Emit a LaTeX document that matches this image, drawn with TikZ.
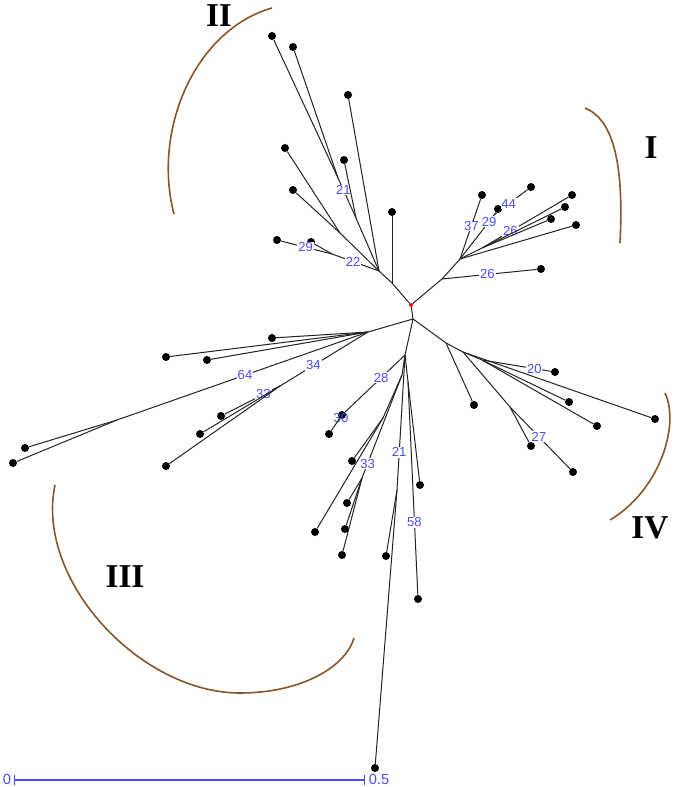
\documentclass[tikz,border=0pt]{standalone}
\usepackage{fontspec}
\setmainfont{Liberation Serif}
\setsansfont{Liberation Sans}
\definecolor{arcbrown}{RGB}{135,85,40}
\definecolor{numblue}{RGB}{75,75,255}
\definecolor{branch}{RGB}{35,35,35}
\begin{document}
\begin{tikzpicture}[x=0.75pt,y=-0.75pt,
    leaf/.style={circle,fill=black,inner sep=0pt,minimum size=6pt},
    br/.style={branch,line width=0.75pt},
    lbl/.style={fill=white,inner sep=0.6pt,text=numblue,font=\sffamily\fontsize{9.8}{10}\selectfont},
    cladelabel/.style={font=\bfseries\fontsize{25}{25}\selectfont},
    cladearc/.style={arcbrown,line width=1.2pt}]
\useasboundingbox (0,0) rectangle (685,787);

% Root and main junctions
\node[circle,fill=red,inner sep=0pt,minimum size=3pt] (root) at (411,305) {};
\coordinate (ja) at (413,319);
\coordinate (jb) at (392,283);
\coordinate (jc) at (379,271);
\coordinate (jd) at (442,279);
\coordinate (je) at (460,259);
\draw[br] (root) -- (ja);
\draw[br] (root) -- (jb) -- (jc);
\draw[br] (root) -- (jd) -- (je);

% Clade II
\node[leaf] (L1) at (272,36) {};
\node[leaf] (L2) at (293,47) {};
\node[leaf] (L3) at (348,95) {};
\node[leaf] (L4) at (344,160) {};
\node[leaf] (L5) at (285,148) {};
\node[leaf] (L6) at (293,190) {};
\node[leaf] (L7) at (277,240) {};
\node[leaf] (L8) at (311,242) {};
\node[leaf] (L9) at (392,212) {};
\coordinate (c1) at (338,178);
\coordinate (c2) at (356,218);
\coordinate (c3) at (340,233);
\coordinate (c4) at (332,254);
\draw[br] (jb) -- (L9);
\draw[br] (L1) -- (c1);
\draw[br] (L2) -- (c1);
\draw[br] (c1) -- node[lbl,pos=0.3] (n21a) {21} (c2);
\draw[br] (L4) -- (c2) -- (jc);
\draw[br] (L3) -- (jc);
\draw[br] (L5) -- (c3);
\draw[br] (L6) -- (c3) -- (jc);
\draw[br] (L7) -- node[lbl,pos=0.48] (n29a) {29} (c4);
\draw[br] (L8) -- (c4);
\draw[br] (c4) -- node[lbl,pos=0.45] (n22) {22} (jc);

% Clade I
\node[leaf] (M1) at (541,269) {};
\node[leaf] (M2) at (482,195) {};
\node[leaf] (M3) at (498,209) {};
\node[leaf] (M4) at (531,187) {};
\node[leaf] (M5) at (572,195) {};
\node[leaf] (M6) at (565,207) {};
\node[leaf] (M7) at (551,219) {};
\node[leaf] (M8) at (576,225) {};
\coordinate (c5) at (495,214);
\coordinate (c6) at (482,248);
\draw[br] (jd) -- node[lbl,pos=0.48] (n26a) {26} (M1);
\draw[br] (je) -- node[lbl,pos=0.55] (n37) {37} (M2);
\draw[br] (je) -- node[lbl,pos=0.83] (n29b) {29} (c5);
\draw[br] (c5) -- (M3);
\draw[br] (c5) -- node[lbl,pos=0.42] (n44) {44} (M4);
\draw[br] (je) -- (c6);
\draw[br] (c6) -- node[lbl,pos=0.33] (n26b) {26} (M5);
\draw[br] (c6) -- (M6);
\draw[br] (c6) -- (M7);
\draw[br] (je) -- (M8);

% Clade III
\node[leaf] (N1) at (272,338) {};
\node[leaf] (N2) at (166,357) {};
\node[leaf] (N3) at (207,360) {};
\node[leaf] (N4) at (25,448) {};
\node[leaf] (N5) at (13,463) {};
\node[leaf] (N6) at (221,416) {};
\node[leaf] (N7) at (200,434) {};
\node[leaf] (N8) at (166,466) {};
\node[leaf] (N9) at (329,434) {};
\coordinate (f1) at (368,332);
\coordinate (f2) at (117,420);
\coordinate (f3) at (280,386);
\draw[br] (ja) -- (f1);
\draw[br] (f1) -- (N1);
\draw[br] (f1) -- (N2);
\draw[br] (f1) -- (N3);
\draw[br] (f1) -- node[lbl,pos=0.49] (n64) {64} (f2);
\draw[br] (f2) -- (N4);
\draw[br] (f2) -- (N5);
\draw[br] (f1) -- node[lbl,pos=0.62] (n34) {34} (f3);
\draw[br] (f3) -- node[lbl,pos=0.3] (n33a) {33} (N6);
\draw[br] (f3) -- (N7);
\draw[br] (f3) -- (N8);

% Lower branches
\node[leaf] (P1) at (352,461) {};
\node[leaf] (P2) at (315,532) {};
\node[leaf] (P3) at (347,503) {};
\node[leaf] (P4) at (345,529) {};
\node[leaf] (P5) at (342,555) {};
\node[leaf] (Q1) at (420,485) {};
\node[leaf] (Q2) at (418,599) {};
\node[leaf] (R1) at (386,556) {};
\node[leaf] (R2) at (375,768) {};
\node[leaf] (g2) at (342,415) {};
\coordinate (g1) at (405,355);
\coordinate (g3) at (402,375);
\coordinate (g4) at (383,418);
\coordinate (g5) at (362,478);
\coordinate (g6) at (408,382);
\coordinate (g8) at (397,490);
\draw[br] (ja) -- (g1);
\draw[br] (g1) -- node[lbl,pos=0.4] (n28) {28} (g2);
\node[lbl,fill=none] (n30) at (341,418) {30};
\draw[br] (g2) -- (N9);
\draw[br] (g1) -- (g3) -- (g4);
\draw[br] (g4) -- (P1);
\draw[br] (g4) -- (P2);
\draw[br] (g3) -- node[lbl,pos=0.86] (n33b) {33} (g5);
\draw[br] (g5) -- (P3);
\draw[br] (g5) -- (P4);
\draw[br] (g5) -- (P5);
\draw[br] (g1) -- (g6);
\draw[br] (g6) -- (Q1);
\draw[br] (g6) -- node[lbl,pos=0.66] (n58) {58} (Q2);
\draw[br] (g1) -- node[lbl,pos=0.72] (n21b) {21} (g8);
\draw[br] (g8) -- (R1);
\draw[br] (g8) -- (R2);

% Clade IV
\node[leaf] (S1) at (474,405) {};
\node[leaf] (S2) at (555,372) {};
\node[leaf] (S3) at (655,419) {};
\node[leaf] (S4) at (569,402) {};
\node[leaf] (S5) at (597,426) {};
\node[leaf] (S6) at (531,446) {};
\node[leaf] (S7) at (573,472) {};
\coordinate (h1) at (446,343);
\coordinate (h2) at (463,352);
\coordinate (h3) at (482,360);
\coordinate (h4) at (510,407);
\draw[br] (ja) -- (h1) -- (h2) -- (h3);
\draw[br] (h1) -- (S1);
\draw[br] (h3) -- node[lbl,pos=0.76] (n20) {20} (S2);
\draw[br] (h2) -- (S3);
\draw[br] (h3) -- (S4);
\draw[br] (h3) -- (S5);
\draw[br] (h2) -- (h4);
\draw[br] (h4) -- (S6);
\draw[br] (h4) -- node[lbl,pos=0.48] (n27) {27} (S7);

% Clade arcs and names
\draw[cladearc] (585,108) .. controls (614,120) and (624,165) .. (620,243);
\node[cladelabel] (cI) at (651,148) {I};
\draw[cladearc] (272,8) .. controls (195,30) and (152,130) .. (174,214);
\node[cladelabel] (cII) at (219,16) {II};
\draw[cladearc] (55,485) .. controls (35,580) and (140,693) .. (240,693)
    .. controls (300,693) and (345,668) .. (354,638);
\node[cladelabel] (cIII) at (125,577) {III};
\draw[cladearc] (665,393) .. controls (680,425) and (660,490) .. (610,520);
\node[cladelabel] (cIV) at (650,528) {IV};

% Scale bar
\coordinate (b0) at (14,780);
\coordinate (b1) at (365,780);
\draw[numblue,line width=0.9pt,|-|] (b0) -- (b1);
\node[lbl,font=\sffamily\fontsize{11}{12}\selectfont] (s0) at (7,779) {0};
\node[lbl,font=\sffamily\fontsize{11}{12}\selectfont] (s1) at (379,779) {0.5};
\end{tikzpicture}
\end{document}
